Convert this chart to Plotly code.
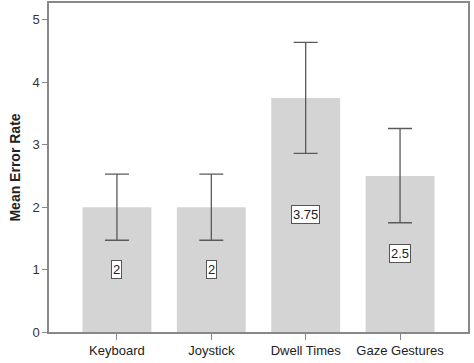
import plotly.graph_objects as go

categories = ["Keyboard", "Joystick", "Dwell Times", "Gaze Gestures"]
means = [2, 2, 3.75, 2.5]
err_upper = [2.53, 2.53, 4.64, 3.26]
err_lower = [1.47, 1.47, 2.86, 1.75]
labels = ["2", "2", "3.75", "2.5"]

plus = [u - m for u, m in zip(err_upper, means)]
minus = [m - l for m, l in zip(means, err_lower)]

fig = go.Figure()
fig.add_trace(go.Bar(
    x=categories, y=means, width=0.73,
    marker=dict(color="#d4d4d4", line=dict(width=0)),
    error_y=dict(type="data", symmetric=False, array=plus, arrayminus=minus,
                 color="#5a5a5a", thickness=1.3, width=12),
    hoverinfo="skip",
))
for c, m, t in zip(categories, means, labels):
    fig.add_annotation(x=c, y=m / 2, text=t, showarrow=False,
                       bgcolor="white", bordercolor="#555", borderwidth=1, borderpad=1,
                       font=dict(family="Liberation Sans, Arial", size=13, color="#222"))

fig.update_layout(
    width=474, height=363,
    margin=dict(l=49, r=6, t=3, b=31, autoexpand=False),
    paper_bgcolor="white", plot_bgcolor="white",
    showlegend=False,
    font=dict(family="Liberation Sans, Arial", size=13, color="#333"),
    xaxis=dict(range=[-0.72, 3.72], showline=True, linecolor="#888", linewidth=1.5,
               mirror=True, ticks="outside", ticklen=6, tickcolor="#888",
               showgrid=False, tickfont=dict(size=13, color="#222")),
    yaxis=dict(range=[0, 5.27], showline=True, linecolor="#888", linewidth=1.5,
               mirror=True, ticks="outside", ticklen=5, tickcolor="#888",
               tickvals=[0, 1, 2, 3, 4, 5], showgrid=False, zeroline=False,
               tickfont=dict(size=13, color="#333"),
               title=dict(text="<b>Mean Error Rate</b>", standoff=9,
                          font=dict(size=14, color="#222"))),
)
fig.write_html("out.html", config={"displayModeBar": False},
               post_script="document.body.style.margin='0';document.body.style.overflow='hidden';")
